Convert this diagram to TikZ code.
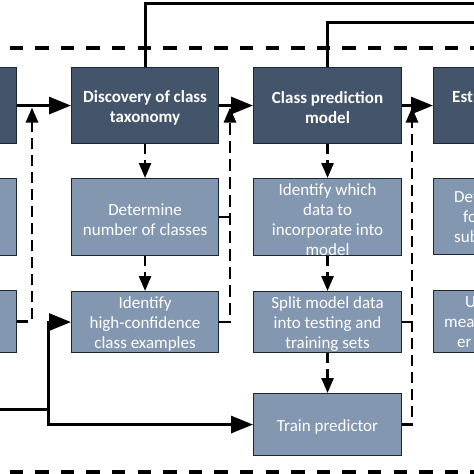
\documentclass[tikz,border=0pt]{standalone}
\usepackage{fontspec}
\setmainfont{Carlito}
\usetikzlibrary{arrows.meta}
\definecolor{darkbox}{HTML}{44546A}
\definecolor{lightbox}{HTML}{8497B0}
\definecolor{edge}{HTML}{1E2630}
\newcommand\mystrut{\rule{0pt}{16.5pt}}
\begin{document}
\begin{tikzpicture}[x=1pt,y=-1pt,
  boxbase/.style={draw=edge, line width=1.1pt, minimum width=147pt, inner sep=0pt, align=center, anchor=north west, text=white},
  hdr/.style={boxbase, fill=darkbox, minimum height=76pt, font=\fontsize{17}{20}\selectfont\bfseries},
  sub/.style={boxbase, fill=lightbox, font=\fontsize{17}{20}\selectfont},
  hdrtxt/.style={anchor=base west, inner sep=0pt, text=white, font=\fontsize{17}{20}\selectfont\bfseries},
  subtxt/.style={anchor=base west, inner sep=0pt, text=white, font=\fontsize{17}{20}\selectfont},
  solidline/.style={line width=3pt, black},
  solidarrow/.style={solidline, -{Triangle[length=22pt,width=17pt]}},
  dashline/.style={line width=2.6pt, black, dash pattern=on 10pt off 6pt},
  dasharrow/.style={dashline, -{Triangle[length=15pt,width=12pt]}},
  stub/.style={line width=2.4pt, black},
  bigdash/.style={line width=4pt, black, dash pattern=on 13.3pt off 12.3pt, dash phase=6pt}
]
\useasboundingbox (0,0) rectangle (474,474);
\clip (0,0) rectangle (474,474);

% long dashed frame lines
\coordinate (dl1) at (-10,48);
\coordinate (dr1) at (484,48);
\coordinate (dl2) at (-10,472);
\coordinate (dr2) at (484,472);
\draw[bigdash] (dl1) -- (dr1);
\draw[bigdash] (dl2) -- (dr2);

% boxes
\node[hdr] (A) at (-131,67) {};
\node[hdr] (B) at (71,67) {\mystrut Discovery of class\\taxonomy};
\node[hdr, minimum width=148pt] (C) at (253,67) {\mystrut Class prediction\\model};
\node[hdr] (D) at (433,67) {};

\node[sub, minimum height=77pt] (L2) at (-131,178) {};
\node[sub, minimum height=77pt] (Det) at (71,178) {\mystrut Determine\\number of classes};
\node[sub, minimum height=77pt, minimum width=148pt] (IdW) at (253,178) {\mystrut Identify which\\data to\\incorporate into\\model};
\node[sub, minimum height=76pt] (R2) at (433,178) {};

\node[sub, minimum height=62pt] (L3) at (-131,290) {};
\node[sub, minimum height=61pt] (Ihc) at (71,291) {\mystrut Identify\\high-confidence\\class examples};
\node[sub, minimum height=61pt, minimum width=148pt] (Split) at (253,291) {\mystrut Split model data\\into testing and\\training sets};
\node[sub, minimum height=62pt] (R3) at (433,290) {};

\node[sub, minimum height=62pt, minimum width=148pt] (Train) at (253,393) {\mystrut Train predictor};

% visible fragments of the boxes cut by the right edge
\node[hdrtxt] (Dt1) at (452,102) {Est};
\node[subtxt] (R2t1) at (454,202) {Det};
\node[subtxt] (R2t2) at (463,222) {fo};
\node[subtxt] (R2t3) at (454,242) {sub};
\node[subtxt] (R3t1) at (465,307) {U};
\node[subtxt] (R3t2) at (444,327) {mea};
\node[subtxt] (R3t3) at (457,347) {er};

% top solid lines
\coordinate (top1) at (484,3);
\coordinate (top2) at (484,22);
\draw[solidline] (B.north) |- (top1);
\draw[solidline] (C.north) |- (top2);

% main flow arrows
\draw[solidarrow] (A.east) -- (B.west);
\draw[solidarrow] (B.east) -- (C.west);
\draw[solidarrow] (C.east) -- (D.west);

% downward dashed arrows
\draw[dasharrow] (B.south) -- (Det.north);
\draw[dasharrow] (Det.south) -- (Ihc.north);
\draw[dasharrow] (C.south) -- (IdW.north);
\draw[dasharrow] (IdW.south) -- (Split.north);
\draw[dasharrow] (Split.south) -- (Train.north);

% upward dashed feedback arrows
\coordinate (j1) at (32,107.5);
\coordinate (j2) at (230,107.5);
\coordinate (j3) at (412,107.5);
\draw[dasharrow, dash pattern=on 11pt off 6pt] (L3.east) -| (j1);
\draw[dasharrow, dash pattern=on 12pt off 6pt] (Ihc.east) -| (j2);
\draw[stub] (Det.east) -- (Det.east -| j2);
\draw[dasharrow, dash pattern=on 11pt off 6pt] (Train.east) -| (j3);
\draw[stub] (Split.east) -- (Split.east -| j3);

% bottom-left solid input
\coordinate (s0) at (-10,409);
\coordinate (sj) at (48,409);
\draw[solidline] (s0) -- (sj);
\draw[solidarrow] (sj) |- (Ihc.west);
\draw[solidarrow] (sj) |- (Train.west);
\end{tikzpicture}
\end{document}
